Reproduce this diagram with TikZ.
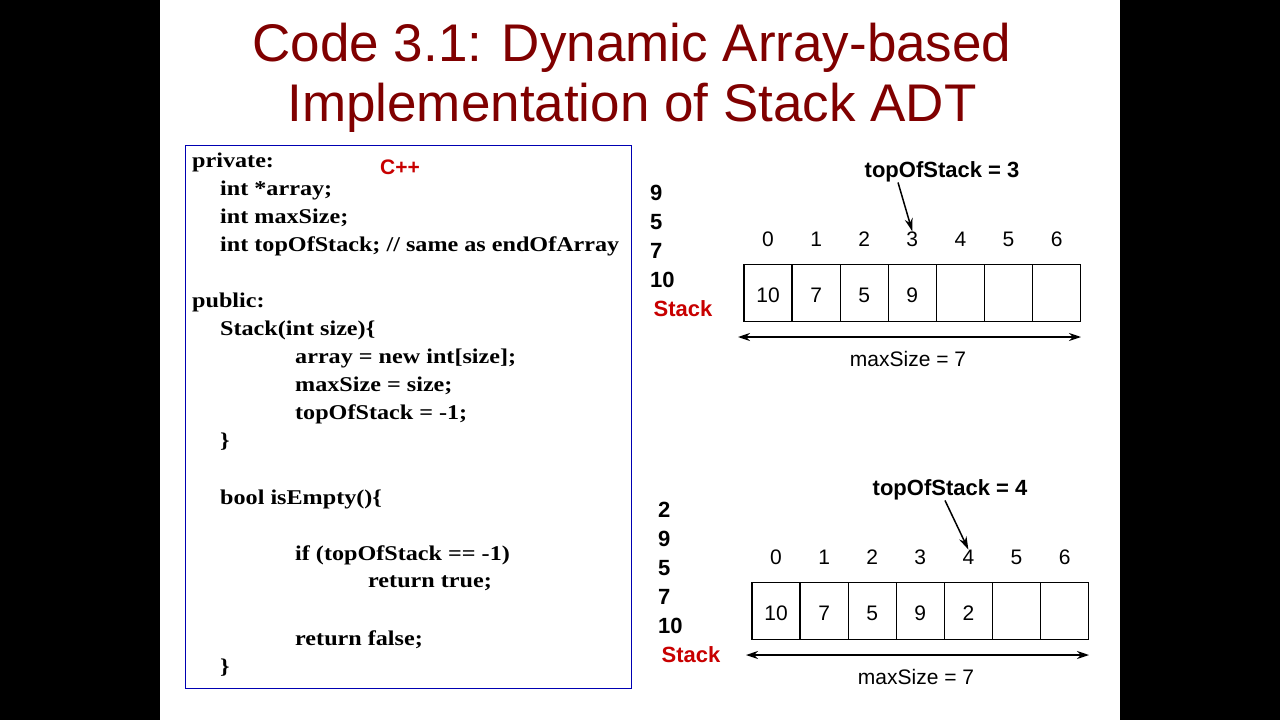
\documentclass[tikz,border=0pt]{standalone}
\usepackage{fontspec}
\setmainfont{Liberation Serif}
\setsansfont{Liberation Sans}
\newfontfamily\codefont[FakeStretch=1.15]{Liberation Serif}
\usetikzlibrary{arrows.meta,positioning}
\definecolor{titlered}{RGB}{128,0,0}
\definecolor{stackred}{RGB}{200,0,0}
\begin{document}
\begin{tikzpicture}[x=1pt,y=-1pt,
  titletxt/.style={font=\sffamily\fontsize{53}{58}\selectfont,text=titlered},
  codetxt/.style={font=\codefont\bfseries\fontsize{21}{24}\selectfont,anchor=west,inner sep=0pt},
  numtxt/.style={font=\sffamily\fontsize{21}{24}\selectfont,inner sep=0pt},
  boldtxt/.style={font=\sffamily\bfseries\fontsize{22}{24}\selectfont,inner sep=0pt},
  cell/.style={draw,line width=1.2pt,minimum width=48.1pt,minimum height=57pt,inner sep=0pt},
  arr/.style={-{Stealth[length=13pt,width=8pt]},line width=1.5pt},
  dim/.style={{Stealth[length=12pt,width=8pt]}-{Stealth[length=12pt,width=8pt]},line width=1.5pt}
]
\useasboundingbox (0,0) rectangle (1280,720);
\fill[black] (0,0) rectangle (1280,720);
\fill[white] (160,0) rectangle (1120,720);

% title
\node[titletxt] (t1) at (632,48) {Code 3.1: Dynamic Array-based};
\node[titletxt] (t2) at (632,108) {Implementation of Stack ADT};

% code box
\draw[draw=blue!70!black,line width=0.8pt] (185,145) rectangle (631,688);
\node[font=\sffamily\bfseries\fontsize{21}{24}\selectfont,text=stackred] (lang) at (400,167) {C++};
\foreach \x/\y/\t in {192/160/{private:},220/188/{int *array;},220/216/{int maxSize;},
  220/244/{int topOfStack; // same as endOfArray},192/300/{public:},220/328/{Stack(int size)\{},
  295/356/{array = new int[size];},295/384/{maxSize = size;},295/412/{topOfStack = -1;},
  220/440/{\}},220/497/{bool isEmpty()\{},295/553/{if (topOfStack == -1)},
  368/581/{return true;},295/638/{return false;},220/666/{\}}}
  \node[codetxt] at (\x,\y+2) {\t};

% stacks and arrays
\foreach \dx/\dy/\top/\ax/\sy/\n/\vals/\stk in {0/0/3/-44/0/4/{10,7,5,9}/{9,5,7,10},
    8/318/4/-5/28/5/{10,7,5,9,2}/{2,9,5,7,10}}{
\begin{scope}[shift={(\dx,\dy)}]
  \foreach \i in {0,...,6}
    \node[cell] (c\i) at ({768+48.1*\i},293) {};
  \foreach \i in {0,...,6}
    \node[numtxt] (ix\i) at ({768+48.1*\i},239) {\i};
  \foreach \v [count=\i] in \vals
    \node[numtxt] at ({768+48.1*(\i-1)},295) {\v};
  \coordinate (L) at (738,337);
  \coordinate (R) at (1081,337);
  \draw[dim] (L) -- (R);
  \node[numtxt] (ms) at (908,359) {maxSize = 7};
  \node[boldtxt] (tos) at (942,172) {topOfStack = \top};
  \draw[arr] ([xshift=\ax pt]tos.south) -- (ix\top.north);
  \node[boldtxt,text=stackred] (stk) at (683,309+\sy) {Stack};
  \foreach \v [count=\k] in \stk
    \node[boldtxt,anchor=west] at (650,{309+\sy-29*(\n+1-\k)}) {\v};
\end{scope}}
\end{tikzpicture}
\end{document}
